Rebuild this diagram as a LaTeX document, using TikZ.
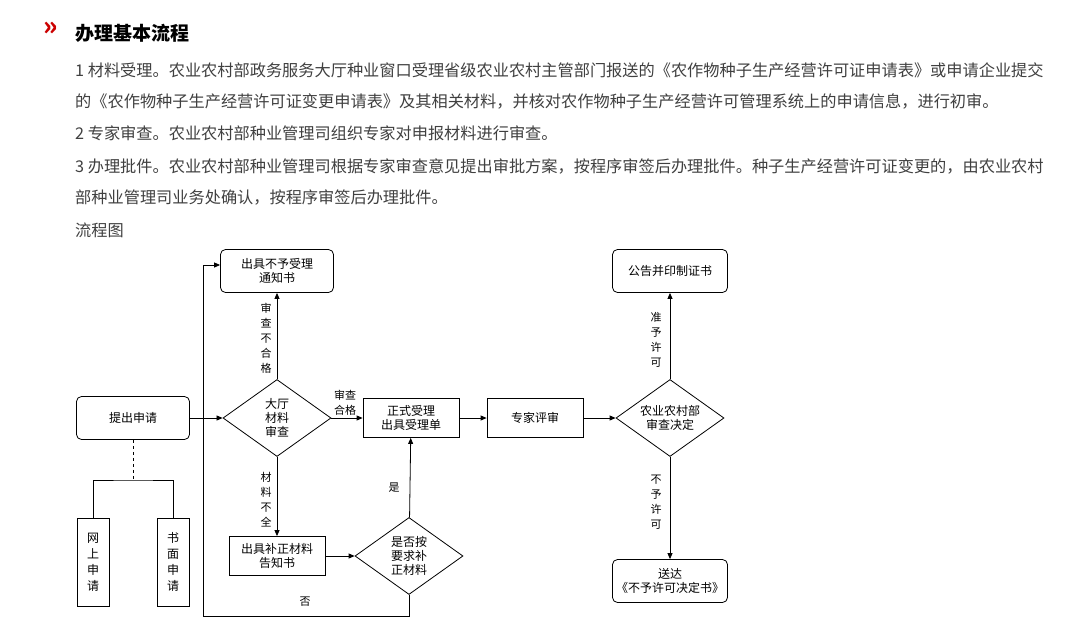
\documentclass[tikz,border=0pt]{standalone}
\usepackage{fontspec}
\setmainfont{Noto Sans CJK SC}
\usetikzlibrary{shapes.geometric,arrows.meta}
\begin{document}
\begin{tikzpicture}[x=1pt,y=-1pt,
  body/.style={anchor=west,inner sep=0,text=black!75,font=\fontsize{16.2}{16}\selectfont},
  rbox/.style={draw,rounded corners=5pt,thick,minimum width=113pt,minimum height=43pt,align=center,font=\fontsize{12}{14}\selectfont},
  sbox/.style={draw,thick,minimum width=96pt,minimum height=39pt,align=center,font=\fontsize{12}{14}\selectfont},
  dia/.style={draw,thick,diamond,aspect=1.4,minimum width=108pt,minimum height=77pt,inner sep=0,align=center,font=\fontsize{12}{14}\selectfont},
  vbox/.style={draw,thick,minimum width=32pt,minimum height=88pt,align=center,font=\fontsize{12}{16}\selectfont},
  lab/.style={align=center,inner sep=0,font=\fontsize{11}{15}\selectfont},
  arr/.style={thick,-{Triangle[length=6pt,width=5pt]}},
  ln/.style={thick}]
\useasboundingbox[fill=white] (0,0) rectangle (1080,640);
\node[text=red!80!black,font=\bfseries\fontsize{26}{26}\selectfont,inner sep=0] (chev) at (51,29) {»};
\node[anchor=west,inner sep=0,font=\bfseries\fontsize{19}{19}\selectfont] (title) at (75,33) {办理基本流程};
\node[body] (l1) at (75,70) {1 材料受理。农业农村部政务服务大厅种业窗口受理省级农业农村主管部门报送的《农作物种子生产经营许可证申请表》或申请企业提交};
\node[body] (l2) at (75,101) {的《农作物种子生产经营许可证变更申请表》及其相关材料，并核对农作物种子生产经营许可管理系统上的申请信息，进行初审。};
\node[body] (l3) at (75,133) {2 专家审查。农业农村部种业管理司组织专家对申报材料进行审查。};
\node[body] (l4) at (75,166) {3 办理批件。农业农村部种业管理司根据专家审查意见提出审批方案，按程序审签后办理批件。种子生产经营许可证变更的，由农业农村};
\node[body] (l5) at (75,198) {部种业管理司业务处确认，按程序审签后办理批件。};
\node[body] (l6) at (75,230) {流程图};

\node[rbox] (apply) at (133,418) {提出申请};
\node[dia] (hall) at (277,418) {大厅\\材料\\审查};
\node[rbox] (reject) at (277,271) {出具不予受理\\通知书};
\node[sbox] (accept) at (411,418) {正式受理\\出具受理单};
\node[sbox] (expert) at (535,418) {专家评审};
\node[dia] (decide) at (670,418) {农业农村部\\审查决定};
\node[rbox,minimum width=115pt] (cert) at (670,271) {公告并印制证书};
\node[rbox,minimum width=115pt] (deliver) at (670,581) {送达\\《不予许可决定书》};
\node[sbox] (supp) at (277,556) {出具补正材料\\告知书};
\node[dia] (check) at (409,556) {是否按\\要求补\\正材料};
\node[vbox] (online) at (93,562) {网\\上\\申\\请};
\node[vbox] (paper) at (173,562) {书\\面\\申\\请};
\coordinate (j) at (133,480);
\coordinate (c1) at (409,616);
\coordinate (c2) at (203,616);
\coordinate (c3) at (203,265);

\draw[ln,dashed] (apply.south) -- (j);
\draw[ln] (online.north) |- (j) -| (paper.north);
\draw[arr] (apply) -- (hall);
\draw[arr] (hall) -- (accept);
\draw[arr] (hall) -- (reject);
\draw[arr] (hall) -- (supp);
\draw[arr] (supp) -- (check);
\draw[arr] (check) -- (accept);
\draw[arr] (accept) -- (expert);
\draw[arr] (expert) -- (decide);
\draw[arr] (decide) -- (cert);
\draw[arr] (decide) -- (deliver);
\draw[arr] (check.south) -- (c1) -- (c2) -- (c3) -- (c3 -| reject.west);

\node[lab] (t1) at (266,338) {审\\查\\不\\合\\格};
\node[lab] (t2) at (266,500) {材\\料\\不\\全};
\node[lab] (t3) at (345,403) {审查\\合格};
\node[lab] (t4) at (394,488) {是};
\node[lab] (t5) at (305,602) {否};
\node[lab] (t6) at (656,340) {准\\予\\许\\可};
\node[lab] (t7) at (656,502) {不\\予\\许\\可};
\end{tikzpicture}
\end{document}
